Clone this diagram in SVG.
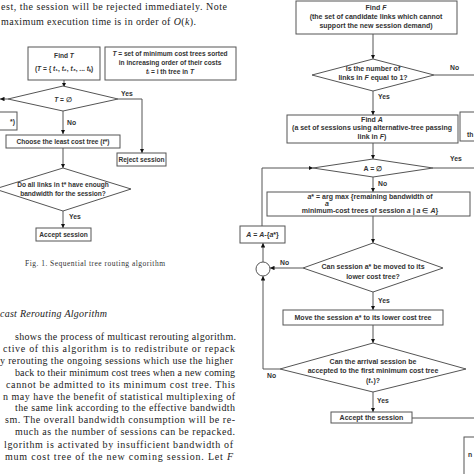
<svg xmlns="http://www.w3.org/2000/svg" width="474" height="474" viewBox="0 0 474 474">
<style>
.pg{font-family:"Liberation Serif","Times New Roman",serif;font-size:10px;fill:#222}
.cap{font-family:"Liberation Serif","Times New Roman",serif;font-size:7.5px;fill:#333}
.fc{font-family:"Liberation Sans",Arial,sans-serif;font-weight:bold;font-size:6.6px;fill:#333;text-anchor:middle}
.fr{font-family:"Liberation Sans",Arial,sans-serif;font-weight:bold;font-size:7px;fill:#333;text-anchor:middle}
.fl{font-family:"Liberation Sans",Arial,sans-serif;font-weight:bold;font-size:6.8px;fill:#333}
.bx{fill:#fff;stroke:#555;stroke-width:1}
.ln{fill:none;stroke:#555;stroke-width:1}
.i{font-style:italic}
</style>
<defs>
<marker id="ah" viewBox="0 0 10 10" refX="10" refY="5" markerWidth="4.5" markerHeight="4.5" orient="auto" markerUnits="userSpaceOnUse">
<path d="M0,0 L10,5 L0,10 z" fill="#111"/>
</marker>
</defs>
<rect width="474" height="474" fill="#fff"/>

<g id="page-text">
<text class="pg" x="1" y="10" textLength="226" lengthAdjust="spacing">est, the session will be rejected immediately. Note</text>
<text class="pg" x="1" y="25" textLength="195" lengthAdjust="spacing">maximum execution time is in order of <tspan class="i">O</tspan>(<tspan class="i">k</tspan>).</text>
<text class="cap" x="25" y="266" textLength="140" lengthAdjust="spacing">Fig. 1. Sequential tree routing algorithm</text>
<text class="pg i" x="0" y="317" textLength="107" lengthAdjust="spacing">cast Rerouting Algorithm</text>
<text class="pg" x="15" y="340" textLength="221" lengthAdjust="spacing">shows the process of multicast rerouting algorithm.</text>
<text class="pg" x="3" y="352" textLength="232" lengthAdjust="spacing">ctive of this algorithm is to redistribute or repack</text>
<text class="pg" x="0" y="364" textLength="233" lengthAdjust="spacing">y rerouting the ongoing sessions which use the higher</text>
<text class="pg" x="15" y="376" textLength="220" lengthAdjust="spacing">back to their minimum cost trees when a new coming</text>
<text class="pg" x="6" y="388" textLength="229" lengthAdjust="spacing">cannot be admitted to its minimum cost tree. This</text>
<text class="pg" x="3" y="400" textLength="232" lengthAdjust="spacing">n may have the benefit of statistical multiplexing of</text>
<text class="pg" x="15" y="411" textLength="220" lengthAdjust="spacing">the same link according to the effective bandwidth</text>
<text class="pg" x="5" y="423" textLength="230" lengthAdjust="spacing">sm. The overall bandwidth consumption will be re-</text>
<text class="pg" x="15" y="435" textLength="220" lengthAdjust="spacing">much as the number of sessions can be repacked.</text>
<text class="pg" x="4" y="448" textLength="229" lengthAdjust="spacing">lgorithm is activated by insufficient bandwidth of</text>
<text class="pg" x="5" y="460" textLength="228" lengthAdjust="spacing">mum cost tree of the new coming session. Let <tspan class="i">F</tspan></text>
</g>

<g id="connectors">
<path class="ln" d="M64,80 V87" marker-end="url(#ah)"/>
<path class="ln" d="M8,99 H0" marker-end="url(#ah)"/>
<path class="ln" d="M118,99 H142 V153" marker-end="url(#ah)"/>
<path class="ln" d="M63,111 V134" marker-end="url(#ah)"/>
<path class="ln" d="M63,148 V168" marker-end="url(#ah)"/>
<path class="ln" d="M63,211 V228" marker-end="url(#ah)"/>

<path class="ln" d="M373,34 V59" marker-end="url(#ah)"/>
<path class="ln" d="M434,75 H474"/>
<path class="ln" d="M373,91 V115" marker-end="url(#ah)"/>
<path class="ln" d="M373,143 V159" marker-end="url(#ah)"/>
<path class="ln" d="M433,168 H474"/>
<path class="ln" d="M373,177 V192" marker-end="url(#ah)"/>
<path class="ln" d="M373,216 V243" marker-end="url(#ah)"/>
<path class="ln" d="M262,226 V168 H313" marker-end="url(#ah)"/>
<path class="ln" d="M303,268 H270" marker-end="url(#ah)"/>
<path class="ln" d="M263,262 V243" marker-end="url(#ah)"/>
<path class="ln" d="M373,292 V310" marker-end="url(#ah)"/>
<path class="ln" d="M373,325 V343" marker-end="url(#ah)"/>
<path class="ln" d="M280,369 H263 V276" marker-end="url(#ah)"/>
<path class="ln" d="M373,392 V412" marker-end="url(#ah)"/>
<path class="ln" d="M412,418 H474"/>

<text class="fl" x="121" y="96">Yes</text>
<text class="fl" x="67" y="125">No</text>
<text class="fl" x="69" y="219">Yes</text>
<text class="fl" x="450" y="70">No</text>
<text class="fl" x="378" y="99">Yes</text>
<text class="fl" x="450" y="161">Yes</text>
<text class="fl" x="378" y="186">No</text>
<text class="fl" x="280" y="265">No</text>
<text class="fl" x="378" y="303">Yes</text>
<text class="fl" x="267" y="378">No</text>
<text class="fl" x="377" y="403">Yes</text>
</g>

<g id="find-t">
<rect class="bx" x="28" y="47" width="72" height="33"/>
<text class="fc" x="64" y="58">Find <tspan class="i">T</tspan></text>
<text class="fc" x="64" y="71">(<tspan class="i">T</tspan> = { <tspan class="i">t</tspan>₁, <tspan class="i">t</tspan>₂, <tspan class="i">t</tspan>₃, ... <tspan class="i">t</tspan>ₖ)</text>
</g>
<g id="t-def">
<rect class="bx" x="105" y="47" width="131" height="33" stroke="#333"/>
<text class="fc" x="170" y="55.5"><tspan class="i">T</tspan> = set of minimum cost trees sorted</text>
<text class="fc" x="170" y="64.5">in increasing order of their costs</text>
<text class="fc" x="170" y="73.5"><tspan class="i">t</tspan>ᵢ = i th tree in <tspan class="i">T</tspan></text>
</g>
<g id="t-empty">
<polygon class="bx" points="63,86 118,99 63,111 8,99"/>
<text class="fc" x="63" y="101.5"><tspan class="i">T</tspan> = ∅</text>
</g>
<g id="partial-left">
<rect class="bx" x="-5" y="112" width="22" height="18"/>
<text class="fl" x="15" y="123.5" text-anchor="end">*)</text>
</g>
<g id="reject">
<rect class="bx" x="117" y="153" width="49" height="13"/>
<text class="fc" x="141.5" y="162">Reject session</text>
</g>
<g id="choose">
<rect class="bx" x="6" y="135" width="114" height="13"/>
<text class="fc" x="63" y="144">Choose the least cost tree (<tspan class="i">t</tspan>*)</text>
</g>
<g id="enough-bw">
<polygon class="bx" points="63,168 131,189 63,211 -5,189"/>
<text class="fc" x="63" y="187">Do all links in t* have enough</text>
<text class="fc" x="63" y="195.5">bandwidth for the session?</text>
</g>
<g id="accept-left">
<rect class="bx" x="36" y="228" width="55" height="13"/>
<text class="fc" x="63.5" y="237">Accept session</text>
</g>

<g id="find-f">
<rect class="bx" x="296" y="1" width="161" height="33"/>
<text class="fr" x="376" y="10">Find <tspan class="i">F</tspan></text>
<text class="fr" x="376" y="19">(the set of candidate links which cannot</text>
<text class="fr" x="376" y="27.5">support the new session demand)</text>
</g>
<g id="f-one">
<polygon class="bx" points="373,59 434,75 373,91 312,75"/>
<text class="fr" x="373" y="70.5">Is the number of</text>
<text class="fr" x="373" y="79.5">links in <tspan class="i">F</tspan> equal to 1?</text>
</g>
<g id="find-a">
<rect class="bx" x="287" y="115" width="171" height="28"/>
<text class="fr" x="372" y="121.5">Find <tspan class="i">A</tspan></text>
<text class="fr" x="372" y="130">(a set of sessions using alternative-tree passing</text>
<text class="fr" x="372" y="139">link in <tspan class="i">F</tspan>)</text>
</g>
<g id="partial-right">
<rect class="bx" x="460" y="112" width="30" height="29"/>
<text class="fl" x="467" y="137">th</text>
</g>
<g id="a-empty">
<polygon class="bx" points="373,159 433,168 373,177 313,168"/>
<text class="fr" x="373" y="170.5">A = ∅</text>
</g>
<g id="a-star">
<rect class="bx" x="267" y="192" width="203" height="24"/>
<text class="fr" x="370" y="199"><tspan class="i">a</tspan>* = arg max {remaining bandwidth of</text>
<text class="fr" x="327" y="205.8" font-size="4"><tspan class="i">a</tspan></text>
<text class="fr" x="370" y="213">minimum-cost trees of session <tspan class="i">a</tspan> | <tspan class="i">a</tspan> ∈ <tspan class="i">A</tspan>}</text>
</g>
<g id="a-minus">
<rect class="bx" x="240" y="226" width="45" height="17"/>
<text class="fr" x="262.5" y="237"><tspan class="i">A</tspan> = <tspan class="i">A</tspan>-{<tspan class="i">a</tspan>*}</text>
</g>
<g id="junction">
<circle class="bx" cx="263" cy="269" r="7"/>
</g>
<g id="can-move">
<polygon class="bx" points="373,243 443,268 373,292 303,268"/>
<text class="fr" x="373" y="269">Can session a* be moved to its</text>
<text class="fr" x="373" y="279">lower cost tree?</text>
</g>
<g id="move">
<rect class="bx" x="283" y="310" width="160" height="15"/>
<text class="fr" x="363" y="320">Move the session a* to its lower cost tree</text>
</g>
<g id="can-accept">
<polygon class="bx" points="373,343 466,369 373,392 280,369"/>
<text class="fr" x="373" y="364">Can the arrival session be</text>
<text class="fr" x="373" y="373">accepted to the first minimum cost tree</text>
<text class="fr" x="373" y="383">(<tspan class="i">t</tspan>₁)?</text>
</g>
<g id="accept-right">
<rect class="bx" x="331" y="412" width="81" height="11"/>
<text class="fr" x="371.5" y="420">Accept the session</text>
</g>
<g id="partial-bottom">
<rect class="bx" x="464" y="437" width="30" height="45"/>
<text class="fl" x="468" y="457">n</text>
</g>
</svg>
